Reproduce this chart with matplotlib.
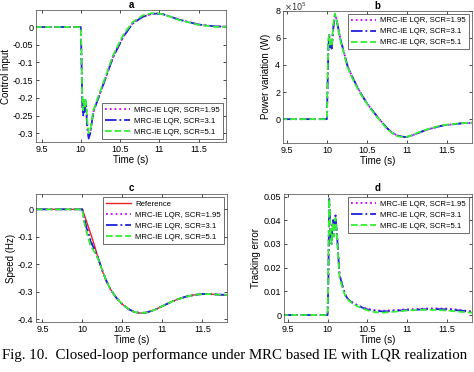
import numpy as np
import matplotlib
matplotlib.use('Agg')
import matplotlib.pyplot as plt
from matplotlib.ticker import FuncFormatter

plt.rcParams['font.family'] = ['Liberation Sans', 'DejaVu Sans']
plt.rcParams['font.size'] = 7
plt.rcParams['xtick.direction'] = 'in'
plt.rcParams['ytick.direction'] = 'in'
plt.rcParams['xtick.top'] = True
plt.rcParams['ytick.right'] = True
plt.rcParams['xtick.major.size'] = 2.5
plt.rcParams['ytick.major.size'] = 2.5
plt.rcParams['axes.linewidth'] = 0.5
plt.rcParams['xtick.major.width'] = 0.5
plt.rcParams['ytick.major.width'] = 0.5

labels = ['MRC-IE LQR, SCR=1.95', 'MRC-IE LQR, SCR=3.1', 'MRC-IE LQR, SCR=5.1']

# (a) control input
t_a = [9.42, 10.0, 10.01, 10.02, 10.03, 10.04, 10.05, 10.06, 10.07, 10.08, 10.1, 10.12,
       10.16, 10.2, 10.29, 10.41, 10.54, 10.66, 10.79, 10.9, 10.97, 11.05, 11.25, 11.5,
       11.7, 11.85]
a_195 = [0, 0, -0.1, -0.22, -0.245, -0.21, -0.235, -0.215, -0.225, -0.27, -0.31, -0.3,
         -0.24, -0.215, -0.16, -0.085, -0.027, 0.011, 0.03, 0.037, 0.038, 0.036, 0.021,
         0.007, 0.002, 0.001]
a_31 = [0, 0, -0.1, -0.225, -0.25, -0.215, -0.24, -0.22, -0.23, -0.28, -0.315, -0.3,
        -0.24, -0.215, -0.16, -0.086, -0.028, 0.01, 0.029, 0.037, 0.038, 0.036, 0.021,
        0.007, 0.002, 0.001]
a_51 = [0, 0, -0.09, -0.21, -0.235, -0.205, -0.225, -0.205, -0.215, -0.26, -0.3, -0.29,
        -0.235, -0.21, -0.155, -0.08, -0.022, 0.014, 0.033, 0.039, 0.039, 0.036, 0.02,
        0.006, 0.001, 0.0]

# (b) power variation, W
t_b = [9.42, 10.0, 10.01, 10.02, 10.03, 10.04, 10.05, 10.06, 10.07, 10.08, 10.1, 10.12,
       10.14, 10.17, 10.22, 10.26, 10.32, 10.38, 10.44, 10.5, 10.57, 10.63, 10.7, 10.76,
       10.82, 10.88, 10.95, 11.0, 11.07, 11.13, 11.22, 11.3, 11.4, 11.47, 11.6, 11.7, 11.82]
b_195 = [0, 0, 3.0e5, 5.6e5, 6.3e5, 5.4e5, 5.8e5, 5.3e5, 6.0e5, 6.8e5, 7.7e5, 7.4e5,
         6.8e5, 5.9e5, 4.8e5, 3.9e5, 3.1e5, 2.4e5, 1.75e5, 1.2e5, 0.65e5, 0.2e5, -0.3e5,
         -0.7e5, -1.0e5, -1.2e5, -1.3e5, -1.32e5, -1.2e5, -1.05e5, -0.85e5, -0.7e5,
         -0.55e5, -0.45e5, -0.37e5, -0.3e5, -0.27e5]
b_31 = [0, 0, 2.8e5, 5.5e5, 6.2e5, 5.3e5, 5.7e5, 5.2e5, 5.9e5, 6.7e5, 7.6e5, 7.4e5,
        6.8e5, 5.9e5, 4.8e5, 3.9e5, 3.1e5, 2.4e5, 1.75e5, 1.2e5, 0.65e5, 0.2e5, -0.3e5,
        -0.7e5, -1.0e5, -1.2e5, -1.3e5, -1.32e5, -1.2e5, -1.05e5, -0.85e5, -0.7e5,
        -0.55e5, -0.45e5, -0.37e5, -0.3e5, -0.27e5]
b_51 = [0, 0, 3.5e5, 6.0e5, 6.2e5, 5.5e5, 5.9e5, 5.4e5, 6.2e5, 7.0e5, 7.8e5, 7.4e5,
        6.7e5, 5.8e5, 4.7e5, 3.8e5, 3.0e5, 2.3e5, 1.7e5, 1.15e5, 0.6e5, 0.15e5, -0.35e5,
        -0.75e5, -1.05e5, -1.25e5, -1.32e5, -1.3e5, -1.18e5, -1.02e5, -0.82e5, -0.67e5,
        -0.52e5, -0.43e5, -0.35e5, -0.29e5, -0.26e5]

# (c) speed, Hz
t_ref = [9.42, 10.0, 10.04, 10.1, 10.15, 10.2, 10.25, 10.3, 10.35, 10.42, 10.5, 10.58,
         10.65, 10.72, 10.8, 10.9, 11.0, 11.1, 11.2, 11.3, 11.4, 11.5, 11.6, 11.7, 11.82]
c_ref = [0, 0, -0.034, -0.085, -0.13, -0.18, -0.225, -0.26, -0.29, -0.32, -0.345, -0.363,
         -0.373, -0.377, -0.375, -0.366, -0.352, -0.338, -0.326, -0.317, -0.311, -0.308,
         -0.308, -0.31, -0.311]
t_c = [9.42, 10.0, 10.02, 10.05, 10.08, 10.1, 10.13, 10.16, 10.2, 10.25, 10.3, 10.35,
       10.42, 10.5, 10.58, 10.65, 10.72, 10.8, 10.9, 11.0, 11.1, 11.2, 11.3, 11.4, 11.5,
       11.6, 11.7, 11.82]
c_195 = [0, 0, -0.03, -0.06, -0.09, -0.11, -0.13, -0.15, -0.18, -0.222, -0.26, -0.29,
         -0.32, -0.345, -0.363, -0.373, -0.377, -0.375, -0.366, -0.352, -0.338, -0.326,
         -0.317, -0.311, -0.308, -0.308, -0.31, -0.311]
c_31 = [0, 0, -0.032, -0.065, -0.095, -0.115, -0.133, -0.152, -0.18, -0.222, -0.26, -0.29,
        -0.32, -0.345, -0.363, -0.373, -0.377, -0.375, -0.366, -0.352, -0.338, -0.326,
        -0.317, -0.311, -0.308, -0.308, -0.31, -0.311]
c_51 = [0, 0, -0.045, -0.08, -0.11, -0.13, -0.145, -0.16, -0.182, -0.222, -0.26, -0.29,
        -0.32, -0.345, -0.363, -0.373, -0.377, -0.375, -0.366, -0.352, -0.338, -0.326,
        -0.317, -0.311, -0.308, -0.308, -0.31, -0.311]

# (d) tracking error
t_d = [9.42, 10.0, 10.01, 10.02, 10.03, 10.04, 10.05, 10.06, 10.07, 10.08, 10.09, 10.1,
       10.12, 10.15, 10.19, 10.23, 10.27, 10.33, 10.39, 10.46, 10.52, 10.6, 10.7, 10.8,
       10.9, 11.0, 11.1, 11.2, 11.3, 11.4, 11.5, 11.6, 11.7, 11.82]
d_195 = [0, 0, 0.02, 0.048, 0.04, 0.032, 0.03, 0.038, 0.04, 0.034, 0.04, 0.042, 0.033,
         0.017, 0.012, 0.008, 0.0063, 0.005, 0.004, 0.003, 0.0025, 0.002, 0.0018, 0.002,
         0.0022, 0.0024, 0.0025, 0.0027, 0.0028, 0.0028, 0.0027, 0.0024, 0.002, 0.0015]
d_31 = [0, 0, 0.015, 0.049, 0.041, 0.033, 0.03, 0.037, 0.04, 0.034, 0.04, 0.042, 0.033,
        0.017, 0.012, 0.008, 0.0062, 0.0048, 0.0038, 0.0028, 0.0022, 0.0018, 0.0015, 0.0017,
        0.0019, 0.0021, 0.0022, 0.0024, 0.0025, 0.0025, 0.0024, 0.0021, 0.0018, 0.0013]
d_51 = [0, 0, 0.025, 0.049, 0.042, 0.034, 0.03, 0.036, 0.039, 0.033, 0.039, 0.041, 0.032,
        0.016, 0.011, 0.0075, 0.006, 0.0045, 0.0035, 0.0025, 0.0018, 0.0012, 0.001, 0.0013,
        0.0016, 0.0019, 0.0021, 0.0022, 0.0022, 0.0021, 0.0019, 0.0016, 0.0013, 0.001]

c_mag = '#c200ff'
c_blue = '#2020dd'
c_green = '#33ee33'
styles = [dict(color=c_mag, ls=':', lw=1.3),
          dict(color=c_blue, ls='-.', lw=1.3),
          dict(color=c_green, ls='--', lw=1.3)]

fig = plt.figure(figsize=(4.74, 3.72), dpi=100)
ax_a = fig.add_axes([0.076, 0.618, 0.401, 0.355])
ax_b = fig.add_axes([0.597, 0.616, 0.399, 0.355])
ax_c = fig.add_axes([0.076, 0.134, 0.403, 0.344])
ax_d = fig.add_axes([0.599, 0.134, 0.397, 0.344])

leg_kw = dict(fontsize=5.6, handlelength=3.2, labelspacing=0.45, borderpad=0.4,
              handletextpad=0.6, fancybox=False, framealpha=1, edgecolor='#333333',
              borderaxespad=0.4)

for y, st, lab in zip([a_195, a_31, a_51], styles, labels):
    ax_a.plot(t_a, y, label=lab, **st)
ax_a.set_xlim(9.43, 11.85)
ax_a.set_ylim(-0.325, 0.048)
ax_a.set_yticks([0, -0.05, -0.1, -0.15, -0.2, -0.25, -0.3])
ax_a.set_yticklabels(['0', '-0.05', '-0.1', '-0.15', '-0.2', '-0.25', '-0.3'])
ax_a.set_ylabel('Control input', labelpad=1)
ax_a.set_title('a', fontweight='bold', fontsize=7, pad=1)
ax_a.legend(loc='lower right', **leg_kw).get_frame().set_linewidth(0.5)

for y, st, lab in zip([b_195, b_31, b_51], styles, labels):
    ax_b.plot(t_b, y, label=lab, **st)
ax_b.set_xlim(9.45, 11.82)
ax_b.set_ylim(-1.75e5, 8e5)
ax_b.set_yticks([0, 2e5, 4e5, 6e5, 8e5])
# tick labels in units of 1e5, exponent written above the axis like MATLAB
ax_b.yaxis.set_major_formatter(FuncFormatter(lambda v, p: '%g' % (v / 1e5)))
fig.text(0.600, 0.999, r'$\times10^5$', fontsize=6, va='top', ha='left', color='#333333')
ax_b.set_ylabel('Power variation (W)', labelpad=3)
ax_b.set_title('b', fontweight='bold', fontsize=7, pad=1)
ax_b.legend(loc='upper right', **leg_kw).get_frame().set_linewidth(0.5)

ax_c.plot(t_ref, c_ref, color='#ee2222', ls='-', lw=1.0, label='Reference')
for y, st, lab in zip([c_195, c_31, c_51], styles, labels):
    ax_c.plot(t_c, y, label=lab, **st)
ax_c.set_xlim(9.42, 11.81)
ax_c.set_ylim(-0.41, 0.055)
ax_c.set_yticks([0, -0.1, -0.2, -0.3, -0.4])
ax_c.set_yticklabels(['0', '-0.1', '-0.2', '-0.3', '-0.4'])
ax_c.set_ylabel('Speed (Hz)', labelpad=1)
ax_c.set_title('c', fontweight='bold', fontsize=7, pad=2)
ax_c.legend(loc='upper right', **leg_kw).get_frame().set_linewidth(0.5)

for y, st, lab in zip([d_195, d_31, d_51], styles, labels):
    ax_d.plot(t_d, y, label=lab, **st)
ax_d.set_xlim(9.45, 11.82)
ax_d.set_ylim(-0.003, 0.051)
ax_d.set_yticks([0, 0.01, 0.02, 0.03, 0.04, 0.05])
ax_d.set_yticklabels(['0', '0.01', '0.02', '0.03', '0.04', '0.05'])
ax_d.set_ylabel('Tracking error', labelpad=2)
ax_d.set_title('d', fontweight='bold', fontsize=7, pad=2)
ax_d.legend(loc='upper right', **leg_kw).get_frame().set_linewidth(0.5)

for ax in [ax_a, ax_b, ax_c, ax_d]:
    ax.set_xticks([9.5, 10, 10.5, 11, 11.5])
    ax.set_xticklabels(['9.5', '10', '10.5', '11', '11.5'])
    ax.set_xlabel('Time (s)', labelpad=1)
    ax.tick_params(labelsize=6.5, pad=2)
    for s in ax.spines.values():
        s.set_color('#444444')

fig.text(0.005, 0.045, 'Fig. 10.  Closed-loop performance under MRC based IE with LQR realization',
         family=['Liberation Serif', 'DejaVu Serif'], fontsize=10.7, va='center', ha='left')

plt.savefig('out.png', dpi=100)
plt.close()
